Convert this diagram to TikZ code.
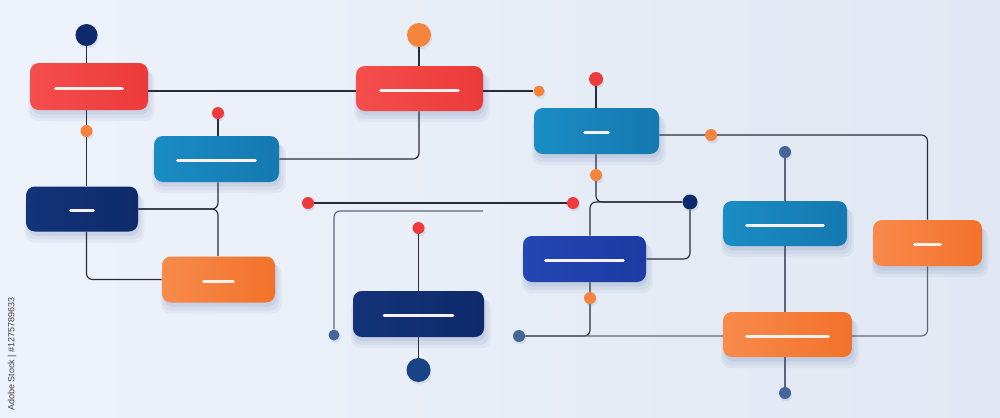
\documentclass[tikz,border=0pt]{standalone}
\usepackage{fontspec}
\setsansfont{Liberation Sans}
\usetikzlibrary{shadows,calc}
\definecolor{bgl}{HTML}{EEF2FA}
\definecolor{bgr}{HTML}{E1E8F3}
\definecolor{cr1}{HTML}{F44E4C}
\definecolor{cr2}{HTML}{EC3A3A}
\definecolor{co1}{HTML}{F88A4C}
\definecolor{co2}{HTML}{F2722A}
\definecolor{ct1}{HTML}{1B8CC4}
\definecolor{ct2}{HTML}{1479B0}
\definecolor{cn1}{HTML}{13337A}
\definecolor{cn2}{HTML}{0E2A69}
\definecolor{cb1}{HTML}{2346B4}
\definecolor{cb2}{HTML}{1C3BA2}
\definecolor{dred}{HTML}{EE3B3B}
\definecolor{dora}{HTML}{F5843D}
\definecolor{dnavy}{HTML}{0F2A6B}
\definecolor{dslate}{HTML}{46659B}
\definecolor{ddeep}{HTML}{174283}
\definecolor{linec}{HTML}{272C38}
\definecolor{linel}{HTML}{5E6679}
\definecolor{barc}{HTML}{F8F1EF}
\definecolor{shadowc}{HTML}{2A4A90}
\pgfdeclarelayer{bg}
\pgfsetlayers{bg,main}
\newcommand\boxbar[2]{\draw[barline] ([xshift=-#2*0.025cm, yshift=-0.04cm]#1.center) -- ([xshift=#2*0.025cm, yshift=-0.04cm]#1.center);}
\begin{document}
\begin{tikzpicture}[x=0.025cm,y=-0.025cm,
  box/.style={rounded corners=0.22cm, inner sep=0pt,
    general shadow={shadow scale=1.07, shadow xshift=0.6mm, shadow yshift=-2.2mm, opacity=0.05, fill=shadowc},
    general shadow={shadow scale=1.04, shadow xshift=0.5mm, shadow yshift=-1.7mm, opacity=0.06, fill=shadowc},
    general shadow={shadow xshift=0.4mm, shadow yshift=-1.1mm, opacity=0.08, fill=shadowc}},
  sz/.style 2 args={minimum width=#1*0.025cm, minimum height=#2*0.025cm},
  redbox/.style={box, left color=cr1, right color=cr2},
  orabox/.style={box, left color=co1, right color=co2},
  tealbox/.style={box, left color=ct1, right color=ct2},
  navybox/.style={box, left color=cn1, right color=cn2},
  royalbox/.style={box, left color=cb1, right color=cb2},
  ball/.style 2 args={circle, inner sep=0pt, fill=#2, minimum size=#1*0.05cm,
    drop shadow={shadow xshift=0.3mm, shadow yshift=-0.6mm, opacity=0.10, fill=shadowc}},
  ln/.style={line width=0.8pt, draw=linec},
  lnl/.style={line width=0.8pt, draw=linel},
  rc/.style={rounded corners=0.15cm},
  barline/.style={line width=2.1pt, draw=barc, line cap=round}
]
\useasboundingbox (0,0) rectangle (1000,417);
\begin{pgfonlayer}{bg}
\shade[left color=bgl, right color=bgr] (0,0) rectangle (1000,417);
\end{pgfonlayer}

% boxes
\node[redbox, sz={118}{47}] (b1) at (89,86.5) {};
\node[redbox, sz={127}{45}] (b2) at (419.5,88.5) {};
\node[tealbox, sz={125}{46}] (b3) at (216.5,159) {};
\node[navybox, sz={112}{45}] (b4) at (82,209) {};
\node[orabox, sz={113}{46}] (b5) at (218.5,279.5) {};
\node[navybox, sz={131}{46}] (b6) at (418.5,314) {};
\node[tealbox, sz={125}{46}] (b7) at (596.5,131) {};
\node[royalbox, sz={123}{46}] (b8) at (584.5,259) {};
\node[tealbox, sz={124}{45}] (b11) at (785,223.5) {};
\node[orabox, sz={129}{45}] (b9) at (787.5,334.5) {};
\node[orabox, sz={109}{46}] (b10) at (927.5,243) {};

% bars
\boxbar{b1}{33.5}
\boxbar{b2}{39}
\boxbar{b3}{39}
\boxbar{b4}{11.5}
\boxbar{b5}{15}
\boxbar{b6}{34.5}
\boxbar{b7}{12}
\boxbar{b8}{39}
\boxbar{b11}{38.5}
\boxbar{b9}{41}
\boxbar{b10}{13}

% dots
\node[ball={11}{dnavy}] (d1) at (86.5,35) {};
\node[ball={12}{dora}] (d2) at (419,35) {};
\node[ball={6}{dora}] (d3) at (86.5,131) {};
\node[ball={6}{dred}] (d4) at (218,113) {};
\node[ball={5.5}{dora}] (d5) at (539,91) {};
\node[ball={6}{dred}] (d6) at (308,203) {};
\node[ball={6}{dred}] (d7) at (573,203) {};
\node[ball={6}{dred}] (d8) at (418.5,228) {};
\node[ball={5.5}{dslate}] (d9) at (334,335) {};
\node[ball={12}{ddeep}] (d10) at (418.5,370) {};
\node[ball={7}{dred}] (d11) at (596,79) {};
\node[ball={6}{dora}] (d12) at (711,135) {};
\node[ball={6}{dora}] (d13) at (596,175) {};
\node[ball={7.5}{dnavy}] (d14) at (690,202) {};
\node[ball={6}{dora}] (d15) at (590,298) {};
\node[ball={6}{dslate}] (d16) at (519,336) {};
\node[ball={6}{dslate}] (d17) at (785,152) {};
\node[ball={6}{dslate}] (d18) at (785,393) {};
\coordinate (e1) at (483,211);

% side text
\node[rotate=90, font=\sffamily\fontsize{6.4}{7}\selectfont, text=black!75] (side) at (12,354) {Adobe Stock | \#1275789633};

% connectors
\begin{pgfonlayer}{bg}
\draw[ln] (d1) -- (d1 |- b4.north);
\draw[ln,rc] (d1 |- b4.south) |- (b5.west);
\draw[ln] (b1.east |- d5) -- (d5);
\draw[ln] (d2) -- (d2 |- b2.center);
\draw[ln,rc] (d2 |- b2.south) |- (b3.east);
\draw[ln] (d4) -- (d4 |- b3.center);
\draw[ln,rc] (d4 |- b3.south) |- (b4.east);
\draw[ln,rc] (d4 |- b5.north) |- (b4.east);
\draw[ln] (d6) -- (d7);
\draw[lnl,rc] (e1) -| (d9);
\draw[ln] (d8) -- (d10);
\draw[ln] (d11) -- (d11 |- b7.center);
\draw[ln,rc] (b7.east |- d12) -| (b10.north);
\draw[ln,rc] (d11 |- b7.south) |- (d14);
\draw[ln,rc] (d15 |- b8.north) |- (d14);
\draw[ln,rc] (d14) |- (b8.east);
\draw[ln,rc] (d15 |- b8.south) |- (d16);
\draw[lnl,rc] (d16) -| (b10.south);
\draw[lnl] (d17) -- (d18);
\end{pgfonlayer}
\end{tikzpicture}
\end{document}
